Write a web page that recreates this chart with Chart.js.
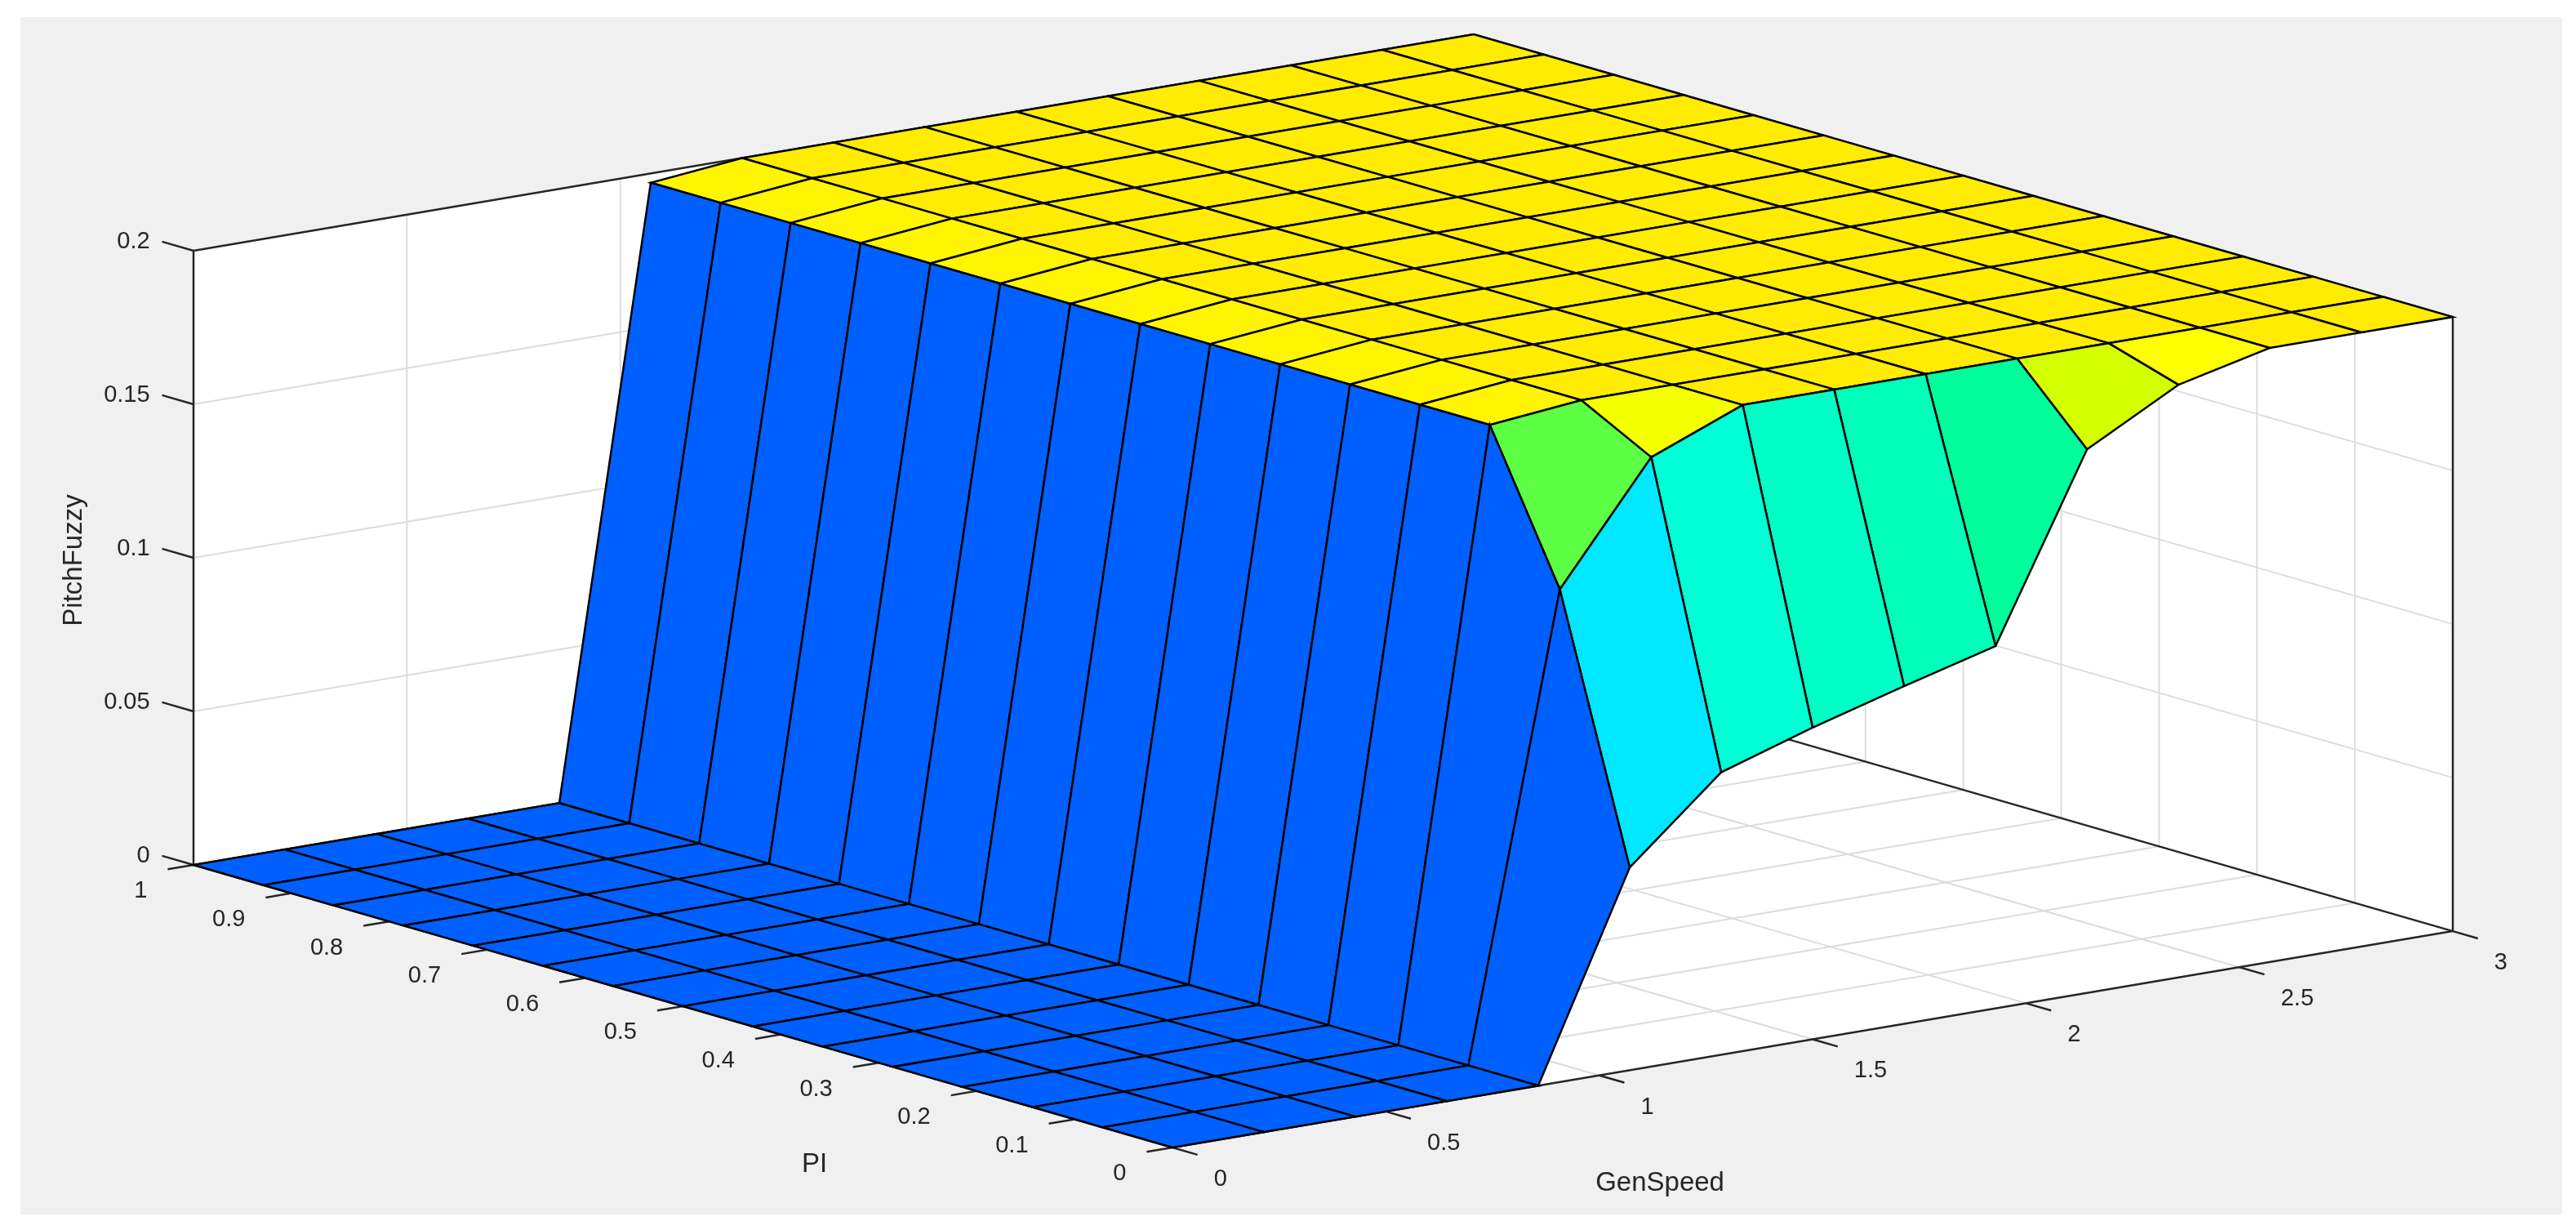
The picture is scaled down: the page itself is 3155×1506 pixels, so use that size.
<!DOCTYPE html>
<html>
<head>
<meta charset="utf-8">
<script src="https://cdn.jsdelivr.net/npm/chart.js@4.4.1/dist/chart.umd.min.js"></script>
<style>
html,body{margin:0;padding:0;background:#ffffff;overflow:hidden}
#wrap{position:absolute;left:0;top:0;width:3155px;height:1506px}
</style>
</head>
<body>
<div id="wrap"><canvas id="c"></canvas></div>
<script>
// ---------------- data ----------------
const genSpeed = [0, 0.2143, 0.4286, 0.6429, 0.8571, 1.0714, 1.2857, 1.5, 1.7143, 1.9286, 2.1429, 2.3571, 2.5714, 2.7857, 3];
const piValues = [0, 0.0714, 0.1429, 0.2143, 0.2857, 0.3571, 0.4286, 0.5, 0.5714, 0.6429, 0.7143, 0.7857, 0.8571, 0.9286, 1];
// one row per genSpeed grid value, columns follow piValues
const pitchFuzzy = [
  [0,0,0,0,0,0,0,0,0,0,0,0,0,0,0],
  [0,0,0,0,0,0,0,0,0,0,0,0,0,0,0],
  [0,0,0,0,0,0,0,0,0,0,0,0,0,0,0],
  [0,0,0,0,0,0,0,0,0,0,0,0,0,0,0],
  [0,0,0,0,0,0,0,0,0,0,0,0,0,0,0],
  [0.066,0.150,0.197,0.197,0.197,0.197,0.197,0.197,0.197,0.197,0.197,0.197,0.197,0.197,0.197],
  [0.092,0.188,0.2,0.2,0.2,0.2,0.2,0.2,0.2,0.2,0.2,0.2,0.2,0.2,0.2],
  [0.1015,0.2,0.2,0.2,0.2,0.2,0.2,0.2,0.2,0.2,0.2,0.2,0.2,0.2,0.2],
  [0.110,0.2,0.2,0.2,0.2,0.2,0.2,0.2,0.2,0.2,0.2,0.2,0.2,0.2,0.2],
  [0.118,0.2,0.2,0.2,0.2,0.2,0.2,0.2,0.2,0.2,0.2,0.2,0.2,0.2,0.2],
  [0.177,0.2,0.2,0.2,0.2,0.2,0.2,0.2,0.2,0.2,0.2,0.2,0.2,0.2,0.2],
  [0.193,0.2,0.2,0.2,0.2,0.2,0.2,0.2,0.2,0.2,0.2,0.2,0.2,0.2,0.2],
  [0.2,0.2,0.2,0.2,0.2,0.2,0.2,0.2,0.2,0.2,0.2,0.2,0.2,0.2,0.2],
  [0.2,0.2,0.2,0.2,0.2,0.2,0.2,0.2,0.2,0.2,0.2,0.2,0.2,0.2,0.2],
  [0.2,0.2,0.2,0.2,0.2,0.2,0.2,0.2,0.2,0.2,0.2,0.2,0.2,0.2,0.2]
];
const genSpeedTicks = [0, 0.5, 1, 1.5, 2, 2.5, 3];
const piTicks = [0, 0.1, 0.2, 0.3, 0.4, 0.5, 0.6, 0.7, 0.8, 0.9, 1];
const pitchTicks = [0, 0.05, 0.1, 0.15, 0.2];
const genRange = [0, 3];
const piRange = [0, 1];
const pitchRange = [0, 0.2];
const axisTitles = {gen: 'GenSpeed', pi: 'PI', pitch: 'PitchFuzzy'};

// ---------------- view (orthographic camera) ----------------
const view = {
  origin: [1436, 1405],      // screen point of (gen=0, pi=0, pitch=0)
  gen: [522.7, -88.3],       // screen shift per GenSpeed unit
  pi: [-1199, -346],         // per PI unit
  pitch: [0, -3760]          // per PitchFuzzy unit
};
function proj(g, p, z) {
  return {
    x: view.origin[0] + g * view.gen[0] + p * view.pi[0] + z * view.pitch[0],
    y: view.origin[1] + g * view.gen[1] + p * view.pi[1] + z * view.pitch[1]
  };
}
function unit(v) { const l = Math.hypot(v[0], v[1]); return [v[0] / l, v[1] / l]; }

// colormap (style): value -> colour
const cmapZ = [0, 0.066, 0.092, 0.1015, 0.110, 0.118, 0.150, 0.177, 0.188, 0.193, 0.197, 0.2];
const cmapRGB = [[0,96,255],[0,232,255],[0,255,212],[0,255,198],[0,255,184],[0,255,156],[92,255,68],[212,255,0],[244,255,0],[255,255,0],[255,245,0],[255,236,0]];
function colorFor(z) {
  if (z <= cmapZ[0]) return 'rgb(' + cmapRGB[0].join(',') + ')';
  for (let k = 1; k < cmapZ.length; k++) {
    if (z <= cmapZ[k]) {
      const t = (z - cmapZ[k - 1]) / (cmapZ[k] - cmapZ[k - 1]);
      const c = cmapRGB[k - 1].map((a, i) => Math.round(a + (cmapRGB[k][i] - a) * t));
      return 'rgb(' + c.join(',') + ')';
    }
  }
  return 'rgb(' + cmapRGB[cmapRGB.length - 1].join(',') + ')';
}

// ---------------- build layers (back to front) ----------------
const layers = [];
function addPoly(pts, fillColor, stroke, width) {
  layers.push({
    type: 'line',
    data: pts.concat([pts[0]]),
    fill: 'shape',
    backgroundColor: fillColor,
    borderColor: stroke,
    borderWidth: width,
    pointRadius: 0,
    tension: 0,
    borderJoinStyle: 'miter'
  });
}
function addLine(pts, stroke, width) {
  layers.push({
    type: 'line',
    data: pts,
    fill: false,
    borderColor: stroke,
    borderWidth: width,
    pointRadius: 0,
    tension: 0,
    borderCapStyle: 'butt'
  });
}
const G0 = genRange[0], G1 = genRange[1], P0 = piRange[0], P1 = piRange[1], Z0 = pitchRange[0], Z1 = pitchRange[1];
const WALL = '#ffffff', GRID = '#dcdcdc', AXIS = '#262626';

// back planes
addPoly([proj(G0,P1,Z0), proj(G1,P1,Z0), proj(G1,P1,Z1), proj(G0,P1,Z1)], WALL, 'rgba(0,0,0,0)', 0);
addPoly([proj(G1,P0,Z0), proj(G1,P1,Z0), proj(G1,P1,Z1), proj(G1,P0,Z1)], WALL, 'rgba(0,0,0,0)', 0);
addPoly([proj(G0,P0,Z0), proj(G1,P0,Z0), proj(G1,P1,Z0), proj(G0,P1,Z0)], WALL, 'rgba(0,0,0,0)', 0);

// grid lines
genSpeedTicks.forEach(g => {
  if (g === G0 || g === G1) return;
  addLine([proj(g,P1,Z0), proj(g,P1,Z1)], GRID, 2);   // back wall
  addLine([proj(g,P0,Z0), proj(g,P1,Z0)], GRID, 2);   // floor
});
piTicks.forEach(p => {
  if (p === P0 || p === P1) return;
  addLine([proj(G1,p,Z0), proj(G1,p,Z1)], GRID, 2);   // side wall
  addLine([proj(G0,p,Z0), proj(G1,p,Z0)], GRID, 2);   // floor
});
pitchTicks.forEach(z => {
  if (z === Z0 || z === Z1) return;
  addLine([proj(G0,P1,z), proj(G1,P1,z)], GRID, 2);
  addLine([proj(G1,P0,z), proj(G1,P1,z)], GRID, 2);
});

// box (back style) edges
[
  [[G0,P0,Z0],[G1,P0,Z0]], [[G0,P0,Z0],[G0,P1,Z0]], [[G1,P0,Z0],[G1,P1,Z0]], [[G0,P1,Z0],[G1,P1,Z0]],
  [[G0,P1,Z0],[G0,P1,Z1]], [[G1,P1,Z0],[G1,P1,Z1]], [[G1,P0,Z0],[G1,P0,Z1]],
  [[G0,P1,Z1],[G1,P1,Z1]], [[G1,P0,Z1],[G1,P1,Z1]]
].forEach(e => addLine([proj(...e[0]), proj(...e[1])], AXIS, 2.5));

// tick marks
const dirPitch = unit(view.pi), dirGen = unit(view.pi).map(v => -v), dirPi = unit(view.gen).map(v => -v);
const TICK_Z = 40, TICK_XY = 32;
const tickLabels = [];
pitchTicks.forEach(z => {
  const b = proj(G0, P1, z);
  const e = {x: b.x + dirPitch[0] * TICK_Z, y: b.y + dirPitch[1] * TICK_Z};
  addLine([b, e], AXIS, 2.5);
  tickLabels.push({text: String(z), x: e.x - 15, y: e.y, align: 'right'});
});
piTicks.forEach(p => {
  const b = proj(G0, p, Z0);
  const e = {x: b.x + dirPi[0] * TICK_XY, y: b.y + dirPi[1] * TICK_XY};
  addLine([b, e], AXIS, 2.5);
  tickLabels.push({text: String(p), x: e.x - 25, y: e.y + 27, align: 'right'});
});
genSpeedTicks.forEach(g => {
  const b = proj(g, P0, Z0);
  const e = {x: b.x + dirGen[0] * TICK_XY, y: b.y + dirGen[1] * TICK_XY};
  addLine([b, e], AXIS, 2.5);
  tickLabels.push({text: String(g), x: e.x + 20, y: e.y + 30, align: 'left'});
});

// surface faces, painter's order (farthest first)
const faces = [];
for (let i = 0; i < genSpeed.length - 1; i++) {
  for (let j = 0; j < piValues.length - 1; j++) {
    const gc = (genSpeed[i] + genSpeed[i + 1]) / 2, pc = (piValues[j] + piValues[j + 1]) / 2;
    faces.push({i, j, depth: 390.6 * gc + 1530 * pc});
  }
}
faces.sort((a, b) => b.depth - a.depth);
faces.forEach(f => {
  const {i, j} = f;
  addPoly([
    proj(genSpeed[i], piValues[j], pitchFuzzy[i][j]),
    proj(genSpeed[i + 1], piValues[j], pitchFuzzy[i + 1][j]),
    proj(genSpeed[i + 1], piValues[j + 1], pitchFuzzy[i + 1][j + 1]),
    proj(genSpeed[i], piValues[j + 1], pitchFuzzy[i][j + 1])
  ], colorFor(pitchFuzzy[i][j]), '#000000', 2.5);
});

// Chart.js draws dataset 0 last (on top): reverse so layers[0] is at the back
const datasets = layers.slice().reverse();

const titleAnchors = [
  {text: axisTitles.pitch, at: proj(G0, P1, 0.1), dx: -146, dy: 3, rot: -Math.PI / 2},
  {text: axisTitles.pi, at: proj(G0, 0.5, Z0), dx: 161, dy: 194, rot: 0},
  {text: axisTitles.gen, at: proj(1.5, P0, Z0), dx: -187, dy: 176, rot: 0}
];

const figureBg = {
  id: 'figureBg',
  beforeDraw(chart) {
    const ctx = chart.ctx;
    ctx.save();
    ctx.fillStyle = '#f0f0f0';
    ctx.fillRect(25, 21, 3113, 1466);
    ctx.restore();
  }
};
const axisText = {
  id: 'axisText',
  afterDraw(chart) {
    const ctx = chart.ctx, sx = chart.scales.x, sy = chart.scales.y;
    ctx.save();
    ctx.fillStyle = '#262626';
    ctx.textBaseline = 'middle';
    ctx.font = '29px "Liberation Sans", Arial, Helvetica, sans-serif';
    tickLabels.forEach(l => {
      ctx.textAlign = l.align;
      ctx.fillText(l.text, sx.getPixelForValue(l.x), sy.getPixelForValue(l.y));
    });
    ctx.font = '33px "Liberation Sans", Arial, Helvetica, sans-serif';
    ctx.textAlign = 'center';
    titleAnchors.forEach(t => {
      ctx.save();
      ctx.translate(sx.getPixelForValue(t.at.x + t.dx), sy.getPixelForValue(t.at.y + t.dy));
      ctx.rotate(t.rot);
      ctx.fillText(t.text, 0, 0);
      ctx.restore();
    });
    ctx.restore();
  }
};

new Chart(document.getElementById('c'), {
  type: 'line',
  data: {datasets},
  options: {
    responsive: true,
    maintainAspectRatio: false,
    animation: false,
    events: [],
    layout: {padding: 0},
    plugins: {legend: {display: false}, tooltip: {enabled: false}, title: {display: false}},
    scales: {
      x: {type: 'linear', min: 0, max: 3155, display: false},
      y: {type: 'linear', min: 0, max: 1506, reverse: true, display: false}
    },
    elements: {line: {capBezierPoints: false}}
  },
  plugins: [figureBg, axisText]
});
</script>
</body>
</html>
